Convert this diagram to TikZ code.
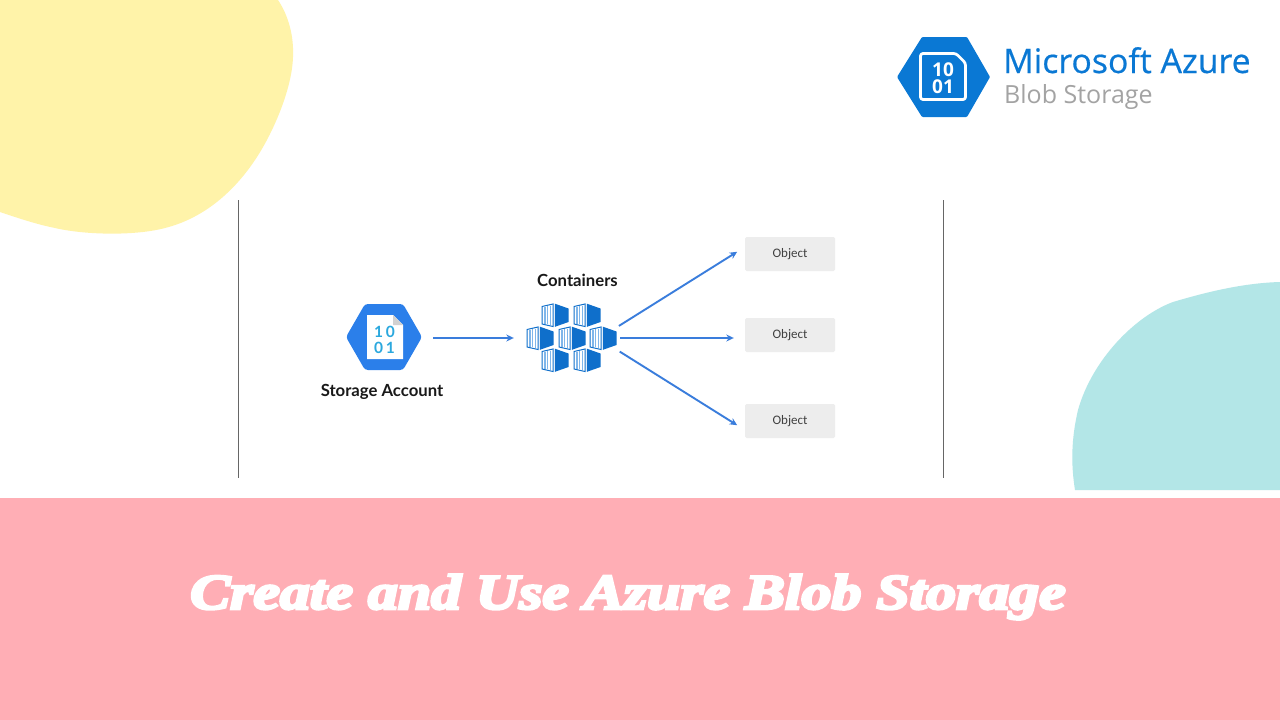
\documentclass[tikz,border=0pt]{standalone}
\usepackage{fontspec}
\usetikzlibrary{arrows.meta}
\setmainfont{Lato}
\newfontfamily\logofont{Open Sans}
\newfontfamily\logosemi[FakeBold=0.5]{Open Sans}
\newfontfamily\objfont{Carlito}
\newfontfamily\titlefont[BoldItalicFeatures={FakeBold=5}]{Liberation Serif}
\definecolor{yellowblob}{HTML}{FFF3A9}
\definecolor{tealblob}{HTML}{B3E6E7}
\definecolor{band}{HTML}{FFAEB5}
\definecolor{azure}{HTML}{0A78D4}
\definecolor{hexblue}{HTML}{2B7FEA}
\definecolor{digit}{HTML}{2BA8DE}
\definecolor{arrowblue}{HTML}{3A7DDC}
\definecolor{objfill}{HTML}{EDEDED}
\definecolor{contdark}{HTML}{0F6FCB}
\definecolor{contlight}{HTML}{7FB6EA}
\tikzset{
  flow/.style={draw=arrowblue,line width=1.9pt,-{Stealth[length=7.5pt,width=7pt]}},
  objbox/.style={fill=objfill,rounded corners=1.5pt,minimum width=90pt,minimum height=34pt,inner sep=0pt,
    font=\objfont\fontsize{13}{15}\selectfont,text=black!75},
  heading/.style={font=\bfseries\fontsize{16.7}{20}\selectfont,text=black!90,inner sep=0pt},
  anchorbox/.style={inner sep=0pt},
  divider/.style={draw=black!60,line width=0.9pt},
  contpic/.pic={
    \fill[white] (0,2.5)--(11,0)--(11,22.5)--(0,20)--cycle;
    \draw[contlight,line width=1.5pt] (2.9,2.5)--(2.9,19.5) (5.6,2)--(5.6,20) (8.3,1.5)--(8.3,21);
    \draw[contdark,line width=1pt,line join=miter] (0,2.5)--(11,0)--(11,22.5)--(0,20)--cycle;
    \fill[contdark] (12.9,-0.3)--(26.5,4.5)--(26.5,18)--(12.9,22.8)--cycle;
  }
}
\begin{document}
\begin{tikzpicture}[x=1pt,y=-1pt]
\useasboundingbox (0,0) rectangle (1280,720);
\fill[white] (0,0) rectangle (1280,720);
% blobs
\fill[yellowblob] (0,0) -- (278,0) .. controls (288,15) and (294,35) .. (293,57)
  .. controls (292,90) and (272,135) .. (255,160)
  .. controls (235,190) and (205,218) .. (165,228)
  .. controls (135,236) and (85,235) .. (55,228)
  .. controls (35,224) and (15,217) .. (0,212) -- cycle;
\fill[tealblob] (1280,282) .. controls (1245,283) and (1210,291) .. (1173,302)
  .. controls (1135,316) and (1092,360) .. (1078,410)
  .. controls (1071,440) and (1071,465) .. (1075,490) -- (1280,490) -- cycle;
\fill[band] (0,498) rectangle (1280,720);
% dividers
\coordinate (d1a) at (238.5,200); \coordinate (d1b) at (238.5,478);
\coordinate (d2a) at (943.5,200); \coordinate (d2b) at (943.5,478);
\draw[divider] (d1a) -- (d1b);
\draw[divider] (d2a) -- (d2b);
% logo
\fill[azure,rounded corners=1pt] (897,77) -- (922,37) -- (967,37) -- (990,77) -- (967,117) -- (922,117) -- cycle;
\draw[white,line width=2.8pt,rounded corners=2.5pt,line join=round]
  (920.5,53.5) -- (956,53.5) -- (965.5,63) -- (965.5,99.5) -- (920.5,99.5) -- cycle;
\node[font=\logofont\bfseries\fontsize{19}{17}\selectfont,text=white,inner sep=0pt,align=center] (logo) at (943,78) {10\\01};
\node[font=\logosemi\fontsize{33.8}{36}\selectfont,text=azure,anchor=base west,inner sep=0pt] (ms) at (1003,73) {Microsoft Azure};
\node[font=\logofont\fontsize{25}{28}\selectfont,text=black!36,anchor=base west,inner sep=0pt] (blob) at (1004,103) {Blob Storage};
% storage account
\fill[hexblue,rounded corners=3pt] (346,337) -- (365,304) -- (403,304) -- (422,337) -- (403,370) -- (365,370) -- cycle;
\fill[white] (367,315) -- (393,315) -- (403,325) -- (403,359) -- (367,359) -- cycle;
\fill[black!18] (393,315) -- (403,325) -- (393,325) -- cycle;
\node[font=\bfseries\fontsize{15.5}{16}\selectfont,text=digit,inner sep=0pt,align=center] (digits) at (384.5,339.5) {1\,0\\0\,1};
\node[anchorbox,minimum width=76pt,minimum height=66pt] (storage) at (384,337) {};
\node[heading] (storagelabel) at (382,391.5) {Storage Account};
% containers
\foreach \px/\py in {542/304,574/304,527/327,559/327,590/327,542/349,574/349}
  \pic at (\px,\py) {contpic};
\node[anchorbox,minimum width=90pt,minimum height=68pt] (cont) at (572,338) {};
\node[heading] (contlabel) at (577.5,280) {Containers};
% objects
\node[objbox] (o1) at (790,254) {Object};
\node[objbox] (o2) at (790,335) {Object};
\node[objbox] (o3) at (790,421) {Object};
% arrows
\draw[flow,shorten <=11pt,shorten >=13pt] ([yshift=-1pt]storage.east) -- (cont.west);
\draw[flow,shorten <=2pt,shorten >=9pt] ([yshift=11pt]cont.east) -- ([yshift=7pt]o1.west);
\draw[flow,shorten <=3pt,shorten >=11pt] (cont.east) -- ([yshift=-3pt]o2.west);
\draw[flow,shorten <=3pt,shorten >=9pt] ([yshift=-12pt]cont.east) -- ([yshift=-9pt]o3.west);
% title
\node[text=white,inner sep=0pt,anchor=base] (title) at (628,609) {\scalebox{1.196}[1]{\titlefont\bfseries\itshape\fontsize{50}{54}\selectfont Create and Use Azure Blob Storage}};
\end{tikzpicture}
\end{document}
